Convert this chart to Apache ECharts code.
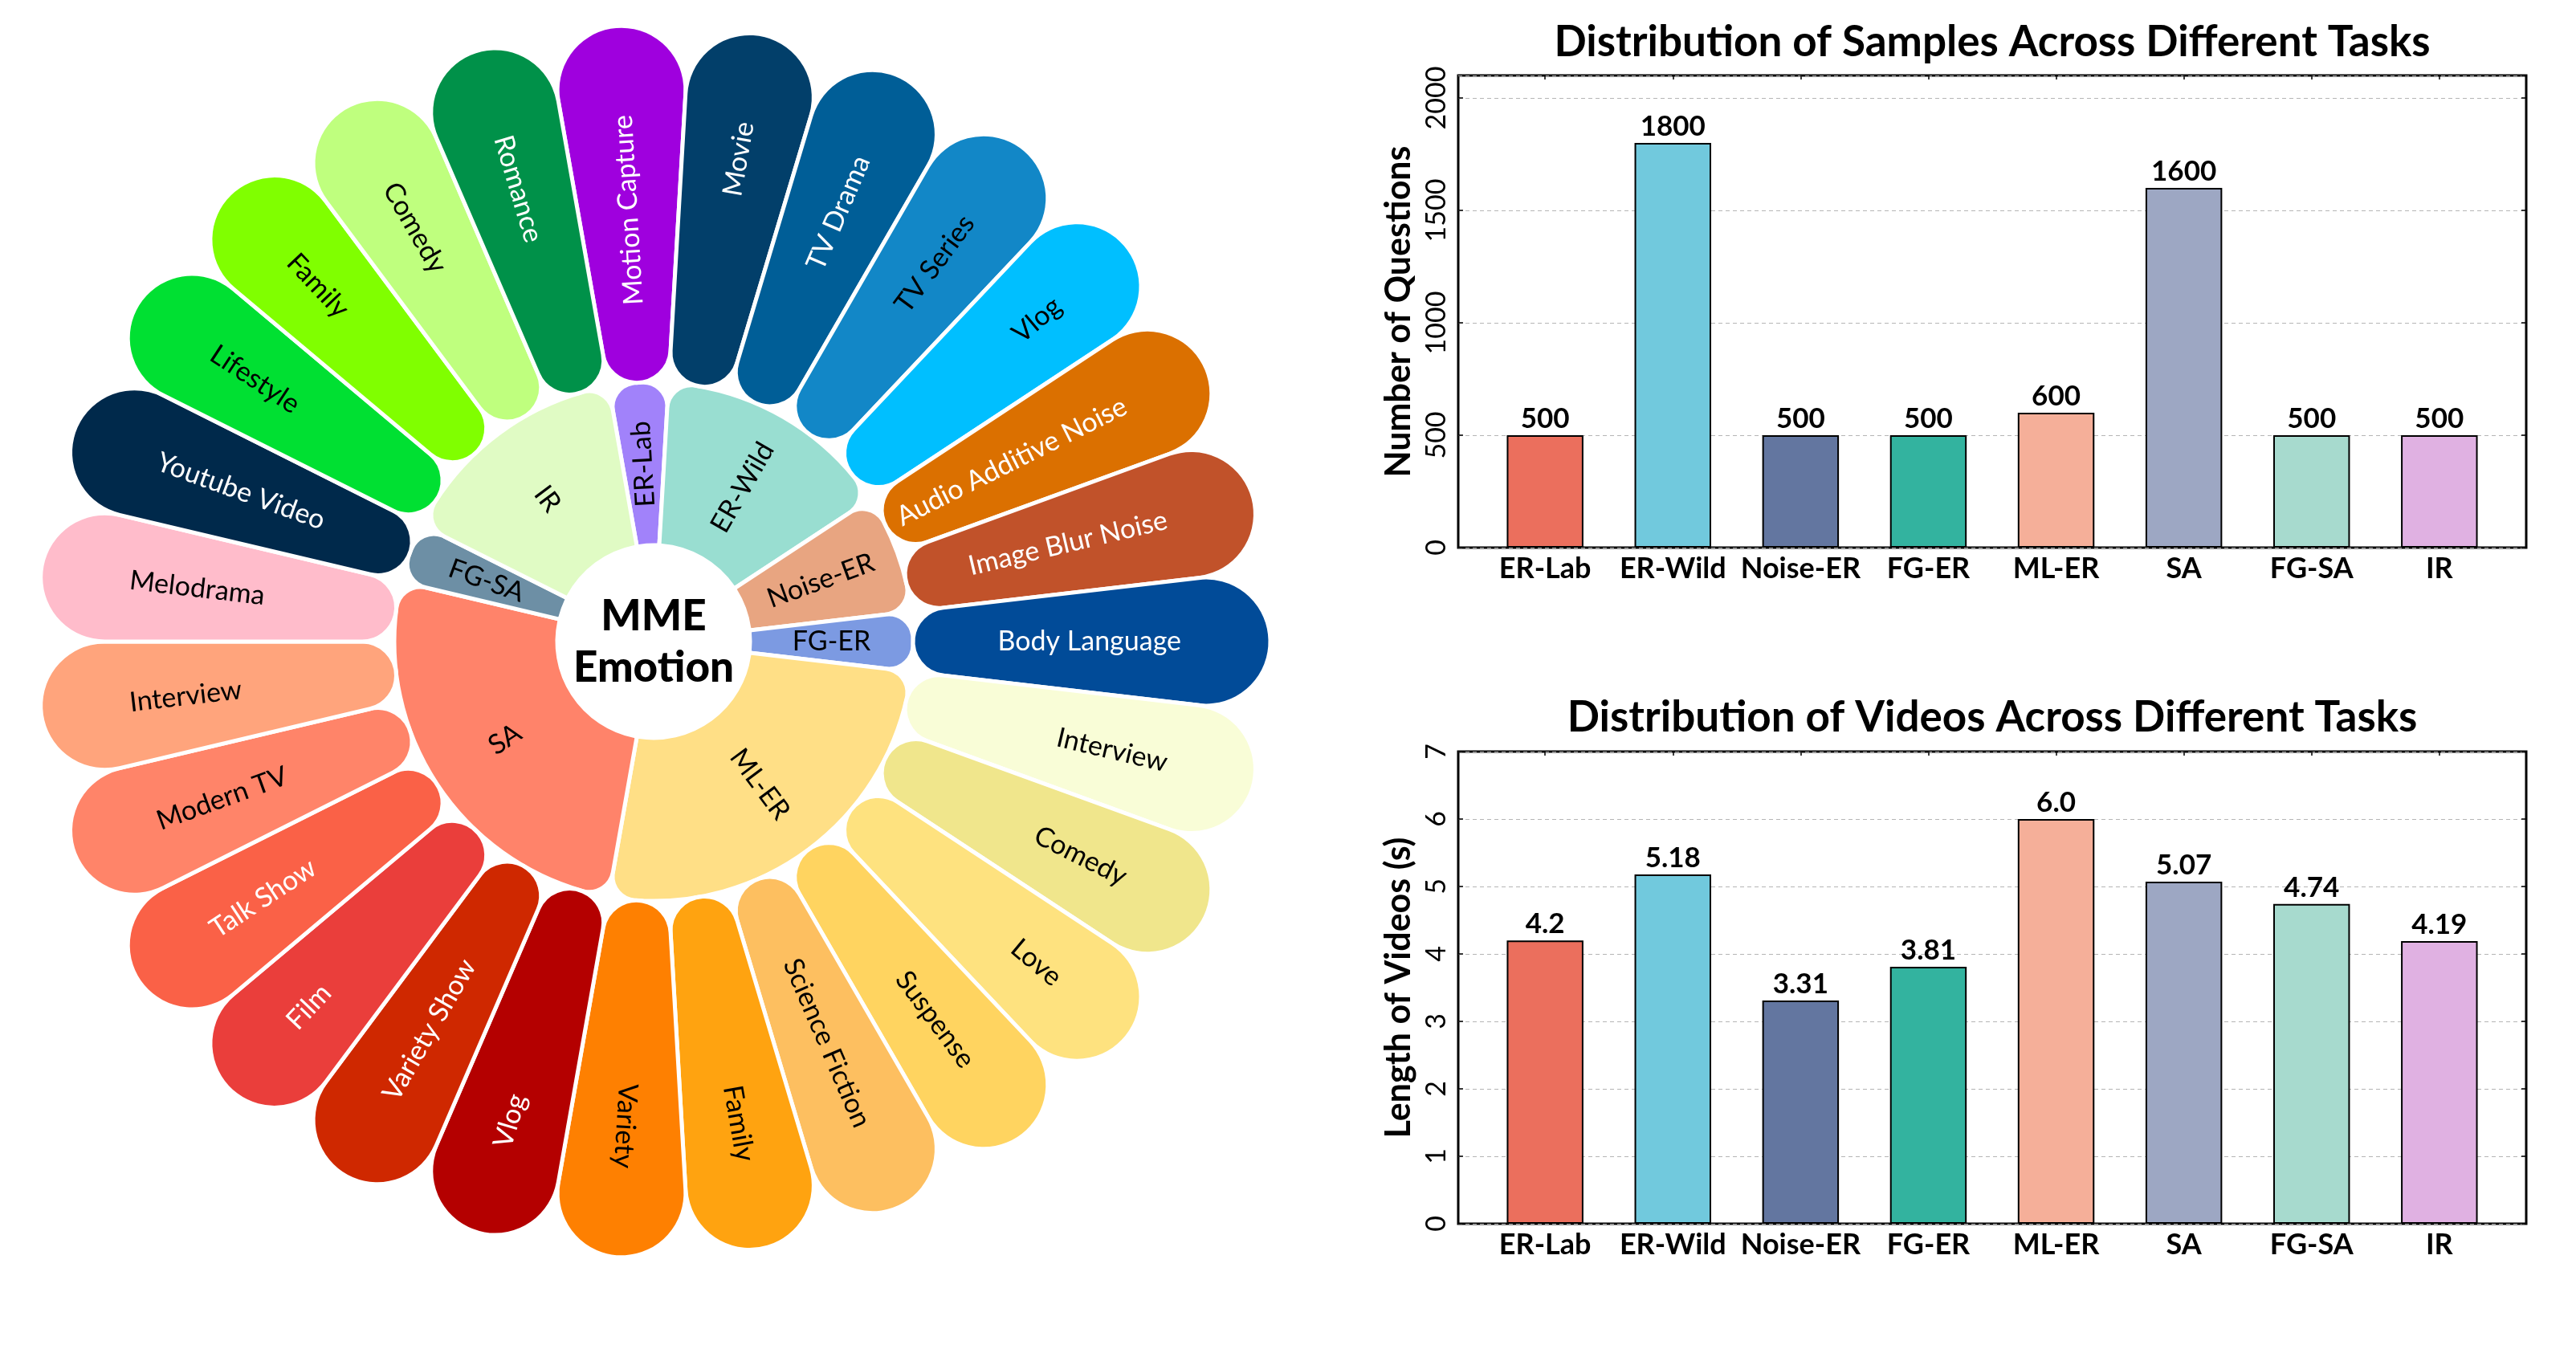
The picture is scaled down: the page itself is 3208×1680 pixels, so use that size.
<!DOCTYPE html>
<html>
<head>
<meta charset="utf-8">
<script src="https://cdn.jsdelivr.net/npm/echarts@6/dist/echarts.min.js"></script>
<style>
html,body{margin:0;padding:0;background:#fff;}
#chart{width:3208px;height:1680px;}
</style>
</head>
<body>
<div id="chart"></div>
<script>
// ---------------- data ----------------
const tasks = ['ER-Lab', 'ER-Wild', 'Noise-ER', 'FG-ER', 'ML-ER', 'SA', 'FG-SA', 'IR'];
const sources = [
  ['Motion Capture'],
  ['Movie', 'TV Drama', 'TV Series', 'Vlog'],
  ['Audio Additive Noise', 'Image Blur Noise'],
  ['Body Language'],
  ['Interview', 'Comedy', 'Love', 'Suspense', 'Science Fiction', 'Family', 'Variety'],
  ['Vlog', 'Variety Show', 'Film', 'Talk Show', 'Modern TV', 'Interview', 'Melodrama'],
  ['Youtube Video'],
  ['Lifestyle', 'Family', 'Comedy', 'Romance']
];
// every source petal has the same weight
const sourceWeight = 1;

const barCategories = ['ER-Lab', 'ER-Wild', 'Noise-ER', 'FG-ER', 'ML-ER', 'SA', 'FG-SA', 'IR'];
const sampleCounts = [500, 1800, 500, 500, 600, 1600, 500, 500];
const videoLengths = [4.2, 5.18, 3.31, 3.81, 6.0, 5.07, 4.74, 4.19];

const countTicks = { min: 0, max: 2100, interval: 500 };
const lengthTicks = { min: 0, max: 7, interval: 1 };

// ---------------- styles ----------------
const taskColors = ['#A182FA', '#99DED1', '#E8A581', '#7C9AE2', '#FFDF86', '#FF836A', '#6D8FA5', '#E0FBC4'];
const sourceColors = [
  ['#9F00DE'],
  ['#023F6A', '#005E97', '#1287C7', '#00BFFF'],
  ['#DB7000', '#C1522A'],
  ['#014B98'],
  ['#F9FDD7', '#F0E68C', '#FEE27F', '#FFD460', '#FDBF60', '#FFA310', '#FE8001'],
  ['#B40000', '#CF2800', '#EA3E3B', '#FA6147', '#FF8469', '#FFA47C', '#FFBCCB'],
  ['#00294B'],
  ['#00E032', '#80FF00', '#BFFF7E', '#009149']
];
const sourceTextColors = [
  ['#fff'],
  ['#fff', '#fff', '#000', '#000'],
  ['#fff', '#fff'],
  ['#fff'],
  ['#000', '#000', '#000', '#000', '#000', '#000', '#000'],
  ['#fff', '#fff', '#fff', '#fff', '#000', '#000', '#000'],
  ['#fff'],
  ['#000', '#000', '#000', '#fff']
];
const barColors = ['#EB6F5D', '#71C9DD', '#6376A0', '#33B39F', '#F5AF99', '#9DA7C3', '#A7DACE', '#E0B1E2'];

const FONT = "Lato, 'Noto Sans', sans-serif";

// ---------------- sunburst build ----------------
const CENTER = [814, 799];
const R_HOLE = 120, R_MID = 323, R_OUT = 768, LABEL_END_R = 657;
const START_ANGLE = 100;
const totalPetals = sources.reduce((s, a) => s + a.length * sourceWeight, 0);
const STEP = 360 / totalPetals;
function angleAt(pos) {
  let t = START_ANGLE - pos * STEP;
  return ((t + 180) % 360 + 360) % 360 - 180;
}
function radialRotate(t) {
  if (Math.abs(t) <= 95) return { rot: t, flip: false };
  return { rot: t > 0 ? t - 180 : t + 180, flip: true };
}
let cum = 0;
const petalLabels = [];
const sunData = tasks.map((t, i) => {
  const n = sources[i].length * sourceWeight;
  const base = cum;
  const node = {
    name: t,
    itemStyle: { color: taskColors[i] },
    label: { rotate: radialRotate(angleAt(base + n / 2)).rot },
    children: sources[i].map((s, j) => {
      petalLabels.push({ name: s, pos: base + (j + 0.5) * sourceWeight, color: sourceTextColors[i][j] });
      return { name: s, value: sourceWeight, itemStyle: { color: sourceColors[i][j] } };
    })
  };
  cum += n;
  return node;
});

// ---------------- bar layout ----------------
const FRAME_LEFT = 1816, FRAME_WIDTH = 1330, FRAME_H = 588;
const TOP1 = 94, TOP2 = 936;
const nCat = barCategories.length;
const barFrac = 0.6;
const span = (nCat - 1 + barFrac);
const unit = FRAME_WIDTH / (span * 1.1);
const barsLeft = FRAME_LEFT + (0.05 * span + barFrac / 2 - 0.5) * unit;
const barsWidth = nCat * unit;

function frameGrid(top) {
  return { left: FRAME_LEFT, top: top, width: FRAME_WIDTH, height: FRAME_H, show: true, borderColor: '#000', borderWidth: 3, backgroundColor: 'transparent' };
}
function barsGrid(top) {
  return { left: barsLeft, top: top, width: barsWidth, height: FRAME_H, show: false };
}
function leftY(grid, ticks, name, showMax) {
  return {
    gridIndex: grid, type: 'value', min: ticks.min, max: ticks.max, interval: ticks.interval, position: 'left',
    axisLine: { show: false },
    axisTick: { show: true, inside: true, length: 6, lineStyle: { color: '#000', width: 1.5 } },
    axisLabel: { rotate: 90, margin: 10, fontSize: 34, color: '#000', fontFamily: FONT, showMaxLabel: showMax,
      formatter: v => String(v) },
    splitLine: { show: true, lineStyle: { type: [5, 4], color: '#b5b5b5', width: 1.2 } },
    name: name, nameLocation: 'middle', nameGap: 52, nameRotate: 90,
    nameTextStyle: { fontSize: 43, fontWeight: 'bold', color: '#000', fontFamily: FONT }
  };
}
function rightY(grid, ticks) {
  return {
    gridIndex: grid, type: 'value', min: ticks.min, max: ticks.max, interval: ticks.interval, position: 'right',
    axisLine: { show: false },
    axisTick: { show: true, inside: true, length: 6, lineStyle: { color: '#000', width: 1.5 } },
    axisLabel: { show: false }, splitLine: { show: false }
  };
}
function hiddenY(grid, ticks) {
  return { gridIndex: grid, type: 'value', min: ticks.min, max: ticks.max, show: false, splitLine: { show: false } };
}
function catX(grid, pos, labels) {
  return {
    gridIndex: grid, type: 'category', data: barCategories, position: pos,
    axisLine: { show: false },
    axisTick: { show: true, inside: true, alignWithLabel: true, length: 5, lineStyle: { color: '#000', width: 1.5 } },
    axisLabel: labels ? { show: true, margin: 8, fontSize: 36, fontWeight: 'bold', color: '#000', fontFamily: FONT, interval: 0 } : { show: false },
    splitLine: { show: false }
  };
}
function fmtValue(v) { return Number.isInteger(v) && v < 10 ? v.toFixed(1) : String(v); }
function barSeries(xi, yi, values) {
  return {
    type: 'bar', xAxisIndex: xi, yAxisIndex: yi, barWidth: (barFrac * 100) + '%',
    data: values.map((v, i) => ({ value: v, itemStyle: { color: barColors[i] } })),
    itemStyle: { borderColor: '#000', borderWidth: 2 },
    label: { show: true, position: 'top', distance: 3, fontSize: 35, fontWeight: 'bold', color: '#000', fontFamily: FONT,
      formatter: p => fmtValue(p.value) },
    z: 3
  };
}

const option = {
  animation: false,
  backgroundColor: '#fff',
  textStyle: { fontFamily: FONT },
  graphic: [
    { type: 'text', x: FRAME_LEFT + FRAME_WIDTH / 2, y: 53, z: 10,
      style: { text: 'Distribution of Samples Across Different Tasks', fontSize: 53, fontWeight: 'bold', fontFamily: FONT, fill: '#000',
        align: 'center', verticalAlign: 'middle', textAlign: 'center', textVerticalAlign: 'middle' } },
    { type: 'text', x: FRAME_LEFT + FRAME_WIDTH / 2, y: 894, z: 10,
      style: { text: 'Distribution of Videos Across Different Tasks', fontSize: 53, fontWeight: 'bold', fontFamily: FONT, fill: '#000',
        align: 'center', verticalAlign: 'middle', textAlign: 'center', textVerticalAlign: 'middle' } },
    { type: 'text', x: CENTER[0], y: CENTER[1] + 1, z: 10,
      style: { text: 'MME\nEmotion', fontSize: 53, fontWeight: 900, fontFamily: FONT, fill: '#000', lineHeight: 64,
        align: 'center', verticalAlign: 'middle', textAlign: 'center', textVerticalAlign: 'middle' } }
  ],
  polar: { center: CENTER, radius: [0, R_OUT] },
  angleAxis: { type: 'value', min: 0, max: totalPetals, startAngle: START_ANGLE, clockwise: true, show: false, splitLine: { show: false } },
  radiusAxis: { type: 'value', min: 0, max: R_OUT, show: false, splitLine: { show: false } },
  grid: [frameGrid(TOP1), barsGrid(TOP1), frameGrid(TOP2), barsGrid(TOP2)],
  xAxis: [
    { gridIndex: 0, type: 'value', show: false, splitLine: { show: false } },
    catX(1, 'bottom', true),
    catX(1, 'top', false),
    { gridIndex: 2, type: 'value', show: false, splitLine: { show: false } },
    catX(3, 'bottom', true),
    catX(3, 'top', false)
  ],
  yAxis: [
    leftY(0, countTicks, 'Number of Questions', false),
    rightY(0, countTicks),
    hiddenY(1, countTicks),
    leftY(2, lengthTicks, 'Length of Videos (s)', true),
    rightY(2, lengthTicks),
    hiddenY(3, lengthTicks)
  ],
  series: [
    {
      type: 'sunburst',
      center: CENTER,
      radius: [R_HOLE, R_OUT],
      startAngle: START_ANGLE,
      sort: null,
      nodeClick: false,
      emphasis: { disabled: true },
      data: sunData,
      label: { fontFamily: FONT, color: '#000' },
      levels: [
        {},
        { r0: R_HOLE, r: R_MID,
          itemStyle: { borderWidth: 5, borderColor: '#fff', borderRadius: [3, 30] },
          label: { show: true, fontSize: 34, color: '#000', fontFamily: FONT } },
        { r0: R_MID, r: R_OUT,
          itemStyle: { borderWidth: 5, borderColor: '#fff', borderRadius: [200, 200] },
          label: { show: false } }
      ]
    },
    {
      type: 'custom',
      coordinateSystem: 'polar',
      silent: true,
      z: 6,
      data: petalLabels.map(d => [LABEL_END_R, d.pos]),
      renderItem: function (params, api) {
        const d = petalLabels[params.dataIndex];
        const p = api.coord([api.value(0), api.value(1)]);
        const rr = radialRotate(angleAt(api.value(1)));
        const al = rr.flip ? 'left' : 'right';
        return {
          type: 'text', x: p[0], y: p[1], rotation: rr.rot * Math.PI / 180,
          style: { text: d.name, fill: d.color, fontSize: 34, fontFamily: FONT,
            align: al, textAlign: al, verticalAlign: 'middle', textVerticalAlign: 'middle' }
        };
      }
    },
    barSeries(1, 2, sampleCounts),
    barSeries(4, 5, videoLengths)
  ]
};

const chart = echarts.init(document.getElementById('chart'), null, { renderer: 'canvas' });
chart.setOption(option);
</script>
</body>
</html>
